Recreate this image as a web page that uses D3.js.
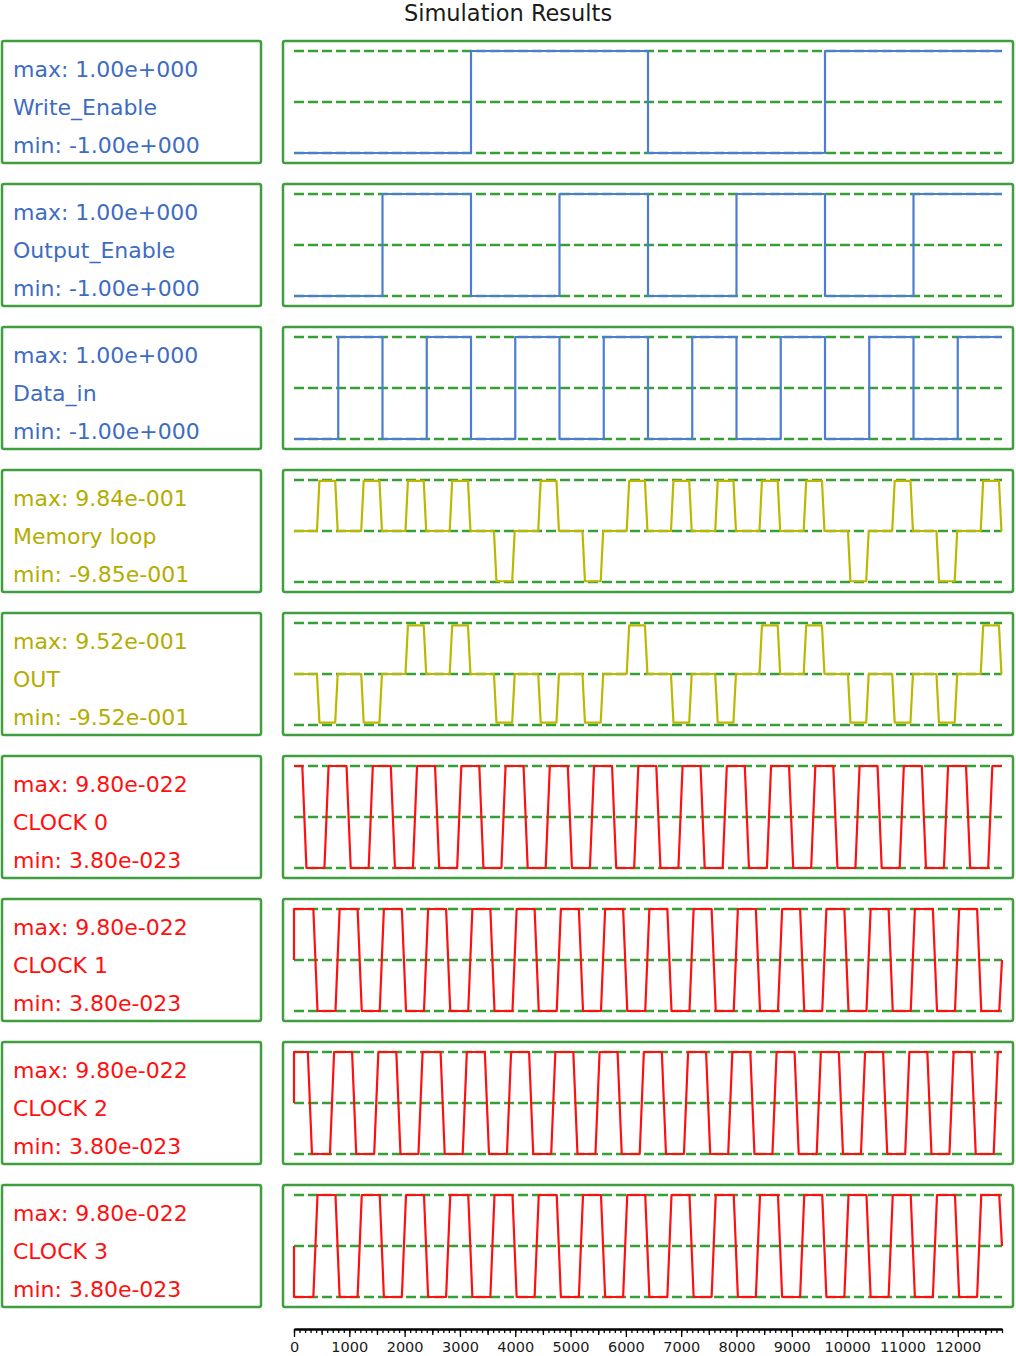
<!DOCTYPE html>
<html>
<head>
<meta charset="utf-8">
<script src="https://cdn.jsdelivr.net/npm/d3@7"></script>
<style>
  body { margin: 0; background: #fff; }
  text { font-family: "DejaVu Sans", sans-serif; }
</style>
</head>
<body>
<div id="chart"></div>
<script>
const names = ["Write_Enable", "Output_Enable", "Data_in", "Memory loop", "OUT", "CLOCK 0", "CLOCK 1", "CLOCK 2", "CLOCK 3"];
const maxLabels = ["max: 1.00e+000", "max: 1.00e+000", "max: 1.00e+000", "max: 9.84e-001", "max: 9.52e-001",
  "max: 9.80e-022", "max: 9.80e-022", "max: 9.80e-022", "max: 9.80e-022"];
const minLabels = ["min: -1.00e+000", "min: -1.00e+000", "min: -1.00e+000", "min: -9.85e-001", "min: -9.52e-001",
  "min: 3.80e-023", "min: 3.80e-023", "min: 3.80e-023", "min: 3.80e-023"];
const tickLabels = ["0", "1000", "2000", "3000", "4000", "5000", "6000", "7000", "8000", "9000", "10000", "11000", "12000"];
const tEnd = 12800;

// inputs: [time, level], level held until next point
const writeEnable = [[0, -1], [3200, 1], [6400, -1], [9600, 1], [12800, 1]];
const outputEnable = [[0, -1], [1600, 1], [3200, -1], [4800, 1], [6400, -1], [8000, 1], [9600, -1], [11200, 1], [12800, 1]];
const dataIn = [[0, -1], [800, 1], [1600, -1], [2400, 1], [3200, -1], [4000, 1], [4800, -1], [5600, 1], [6400, -1],
  [7200, 1], [8000, -1], [8800, 1], [9600, -1], [10400, 1], [11200, -1], [12000, 1], [12800, 1]];

// memory loop / out pulses (start time, sign)
const pulseStarts = [415, 1215, 2015, 2815, 3615, 4415, 5215, 6015, 6815, 7615, 8415, 9215, 10015, 10815, 11615, 12415];
const memSigns = [1, 1, 1, 1, -1, 1, -1, 1, 1, 1, 1, 1, -1, 1, -1, 1];
const outSigns = [-1, -1, 1, 1, -1, -1, -1, 1, -1, -1, 1, 1, -1, -1, -1, 1];
const memLevels = [0.984, -0.985];
const outLevels = [0.952, -0.952];
const pulseEdge = 45, pulseFlat = 285;

// clocks, values in units of 1e-22
const clkHigh = 9.8, clkLow = 0.38, clkMid = 5.09;
const clkRamp = 75;
const clock0Edges = [150, 550, 950, 1350, 1750, 2150, 2550, 2950, 3350, 3750, 4150, 4550, 4950, 5350, 5750, 6150,
  6550, 6950, 7350, 7750, 8150, 8550, 8950, 9350, 9750, 10150, 10550, 10950, 11350, 11750, 12150, 12550];
const clock1Edges = [350, 750, 1150, 1550, 1950, 2350, 2750, 3150, 3550, 3950, 4350, 4750, 5150, 5550, 5950, 6350,
  6750, 7150, 7550, 7950, 8350, 8750, 9150, 9550, 9950, 10350, 10750, 11150, 11550, 11950, 12350];
const clock2Edges = [250, 650, 1050, 1450, 1850, 2250, 2650, 3050, 3450, 3850, 4250, 4650, 5050, 5450, 5850, 6250,
  6650, 7050, 7450, 7850, 8250, 8650, 9050, 9450, 9850, 10250, 10650, 11050, 11450, 11850, 12250, 12650];

function buildClock(head, edges, tail) {
  let pts = head.slice();
  let level = head[head.length - 1][1];
  edges.forEach(e => {
    pts.push([e, level]);
    level = level === clkHigh ? clkLow : clkHigh;
    pts.push([e + clkRamp, level]);
  });
  if (tail) pts = pts.concat(tail);
  else pts.push([tEnd, level]);
  return pts;
}

function buildPulses(signs, levels) {
  let pts = [[0, 0]];
  pulseStarts.forEach((s, i) => {
    const v = signs[i] > 0 ? levels[0] : levels[1];
    pts.push([s, 0], [s + pulseEdge, v], [s + pulseEdge + pulseFlat, v], [s + 2 * pulseEdge + pulseFlat, 0]);
  });
  pts = pts.filter(d => d[0] < tEnd);
  pts.push([tEnd, 0]);
  return pts;
}

const blue = "#4d7dd2", blueText = "#3e6cc2";
const olive = "#bcb800", oliveText = "#b3ad00";
const red = "#ff1010";

const panels = [
  {data: writeEnable, step: true, domain: [-1, 1], color: blue, text: blueText},
  {data: outputEnable, step: true, domain: [-1, 1], color: blue, text: blueText},
  {data: dataIn, step: true, domain: [-1, 1], color: blue, text: blueText},
  {data: buildPulses(memSigns, memLevels), domain: [-1, 1], color: olive, text: oliveText},
  {data: buildPulses(outSigns, outLevels), domain: [-1, 1], color: olive, text: oliveText},
  {data: buildClock([[0, clkHigh]], clock0Edges), domain: [clkLow, clkHigh], color: red, text: red},
  {data: buildClock([[0, clkMid], [0, clkHigh]], clock1Edges, [[12750, clkLow], [12800, clkMid]]), domain: [clkLow, clkHigh], color: red, text: red},
  {data: buildClock([[0, clkMid], [0, clkHigh]], clock2Edges), domain: [clkLow, clkHigh], color: red, text: red},
  {data: buildClock([[0, clkMid], [0, clkLow]], clock1Edges, [[12750, clkHigh], [12800, clkMid]]), domain: [clkLow, clkHigh], color: red, text: red}
];

const width = 1016, height = 1356;
const rowTop = 41, rowStep = 143, rowH = 122;
const boxGreen = "#3f9f3f", gridGreen = "#35a035";

const svg = d3.select("#chart")
  .append("svg")
    .attr("width", width)
    .attr("height", height);

svg.append("text")
  .attr("x", 508)
  .attr("y", 21)
  .attr("text-anchor", "middle")
  .style("font-size", "22.5px")
  .style("fill", "#1a1a1a")
  .text("Simulation Results");

const x = d3.scaleLinear()
  .domain([0, tEnd])
  .range([294, 1002]);

panels.forEach((p, i) => {
  const top = rowTop + i * rowStep;
  const g = svg.append("g");

  g.append("rect")
    .attr("x", 2).attr("y", top)
    .attr("width", 259).attr("height", rowH)
    .attr("rx", 2)
    .attr("fill", "none")
    .attr("stroke", boxGreen)
    .attr("stroke-width", 2.5);

  g.append("rect")
    .attr("x", 283).attr("y", top)
    .attr("width", 730).attr("height", rowH)
    .attr("rx", 2)
    .attr("fill", "none")
    .attr("stroke", boxGreen)
    .attr("stroke-width", 2.5);

  const labels = [maxLabels[i], names[i], minLabels[i]];
  g.selectAll("text.lab")
    .data(labels)
    .enter()
    .append("text")
      .attr("class", "lab")
      .attr("x", 13)
      .attr("y", (d, j) => top + 36 + j * 38)
      .style("font-size", "22px")
      .style("fill", p.text)
      .text(d => d);

  const y = d3.scaleLinear()
    .domain(p.domain)
    .range([top + rowH - 10, top + 10]);

  const gridVals = [p.domain[1], (p.domain[0] + p.domain[1]) / 2, p.domain[0]];
  g.selectAll("line.grid")
    .data(gridVals)
    .enter()
    .append("line")
      .attr("class", "grid")
      .attr("x1", x(0)).attr("x2", x(tEnd))
      .attr("y1", d => y(d)).attr("y2", d => y(d))
      .attr("stroke", gridGreen)
      .attr("stroke-width", 2.4)
      .attr("stroke-dasharray", "10,4");

  const line = d3.line()
    .x(d => x(d[0]))
    .y(d => y(d[1]));
  if (p.step) line.curve(d3.curveStepAfter);

  g.append("path")
    .datum(p.data)
    .attr("d", line)
    .attr("fill", "none")
    .attr("stroke", p.color)
    .attr("stroke-width", 2.2)
    .attr("stroke-linejoin", "round");
});

// time axis
const axisY = 1329;
const minorTicks = d3.range(0, tEnd + 1, 100);
const midTicks = d3.range(500, tEnd, 1000);

svg.append("g")
  .attr("transform", "translate(0," + axisY + ")")
  .call(d3.axisBottom(x).tickValues(minorTicks).tickSize(4).tickSizeOuter(0).tickFormat(""))
  .call(g => g.select(".domain").attr("stroke-width", 2.5));

svg.append("g")
  .attr("transform", "translate(0," + axisY + ")")
  .call(d3.axisBottom(x).tickValues(midTicks).tickSize(6).tickSizeOuter(0).tickFormat(""))
  .call(g => g.select(".domain").remove());

svg.append("g")
  .attr("transform", "translate(0," + axisY + ")")
  .call(d3.axisBottom(x).tickValues(tickLabels.map(Number)).tickSize(8).tickSizeOuter(0).tickPadding(5).tickFormat((d, i) => tickLabels[i]))
  .call(g => g.select(".domain").remove())
  .call(g => g.selectAll("text").style("font-size", "14.5px").style("font-family", "DejaVu Sans, sans-serif").attr("fill", "#1a1a1a"));

svg.selectAll(".tick line").attr("stroke-width", 1.3);
</script>
</body>
</html>
